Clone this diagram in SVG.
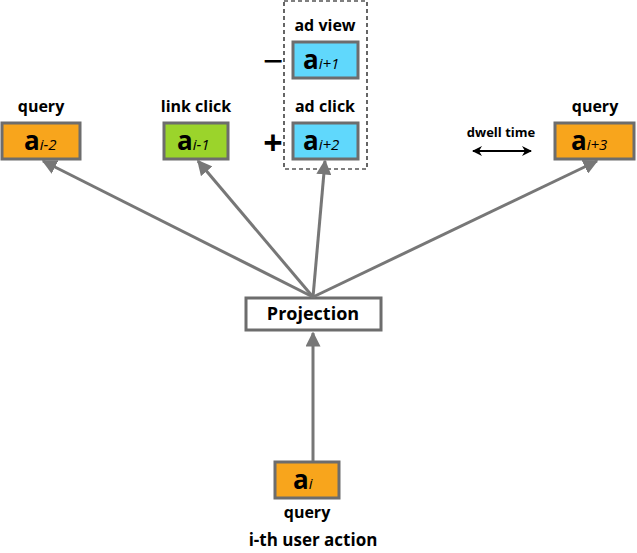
<svg xmlns="http://www.w3.org/2000/svg" width="637" height="553" viewBox="0 0 637 553">
<style>
.b{stroke:#6d6d6d;stroke-width:3}
.t{font-family:"Open Sans","Liberation Sans",sans-serif;font-weight:bold;font-size:16px;fill:#000;text-anchor:middle}
.a{font-family:"Open Sans","Liberation Sans",sans-serif;font-weight:bold;font-size:26px}
.s{font-family:"Open Sans","Liberation Sans",sans-serif;font-style:italic;font-size:15px;font-weight:normal}
.c{stroke:#777;stroke-width:3;fill:none;marker-end:url(#ar)}
</style>
<defs>
<marker id="ar" viewBox="0 0 10 10" refX="9" refY="5" markerWidth="5" markerHeight="5" orient="auto"><path d="M0,0L10,5L0,10z" fill="#777"/></marker>
<marker id="bk" viewBox="0 0 10 10" refX="9" refY="5" markerWidth="5" markerHeight="5" orient="auto-start-reverse"><path d="M0,0L10,5L0,10L3,5z" fill="#000"/></marker>
</defs>
<rect x="284" y="1" width="83" height="168" fill="none" stroke="#000" stroke-dasharray="4,3" stroke-width="1.2"/>
<g id="n1"><text class="t" x="41" y="112">query</text><rect class="b" x="2" y="123" width="78" height="36" fill="#f8a51c"/><text class="a" x="24" y="150">a<tspan class="s">i-2</tspan></text></g>
<g id="n2"><text class="t" x="196" y="112">link click</text><rect class="b" x="164" y="123" width="64" height="36" fill="#9bd42b"/><text class="a" x="177" y="150">a<tspan class="s">i-1</tspan></text></g>
<g id="n3"><text class="t" x="325" y="31">ad view</text><rect class="b" x="293" y="42" width="65" height="36" fill="#60d8fc"/><text class="a" x="303" y="69">a<tspan class="s">i+1</tspan></text></g>
<g id="n4"><text class="t" x="325" y="112">ad click</text><rect class="b" x="293" y="123" width="65" height="36" fill="#60d8fc"/><text class="a" x="303" y="150">a<tspan class="s">i+2</tspan></text></g>
<g id="n5"><text class="t" x="595" y="112">query</text><rect class="b" x="555" y="123" width="79" height="36" fill="#f8a51c"/><text class="a" x="571" y="150">a<tspan class="s">i+3</tspan></text></g>
<g id="proj"><rect class="b" x="246" y="298" width="135" height="32" fill="#fff"/><text class="t" x="313" y="320" style="font-size:18px">Projection</text></g>
<g id="n0"><rect class="b" x="275" y="462" width="64" height="36" fill="#f8a51c"/><text class="a" x="293" y="489">a<tspan class="s">i</tspan></text><text class="t" x="307" y="518">query</text><text class="t" x="313" y="546" style="font-size:17px">i-th user action</text></g>
<text class="t" x="273" y="74" style="font-size:36px;font-weight:normal">−</text>
<text class="t" x="273" y="155" style="font-size:34px">+</text>
<text class="t" x="501" y="137" style="font-size:13px">dwell time</text>
<g id="connectors">
<path class="c" d="M313,297L43,161"/>
<path class="c" d="M313,297L198,161"/>
<path class="c" d="M313,297L325,161"/>
<path class="c" d="M313,297L597,161"/>
<path class="c" d="M313,461L313,333"/>
<path d="M473,151L531,151" stroke="#000" stroke-width="2" marker-start="url(#bk)" marker-end="url(#bk)"/>
</g>
</svg>
